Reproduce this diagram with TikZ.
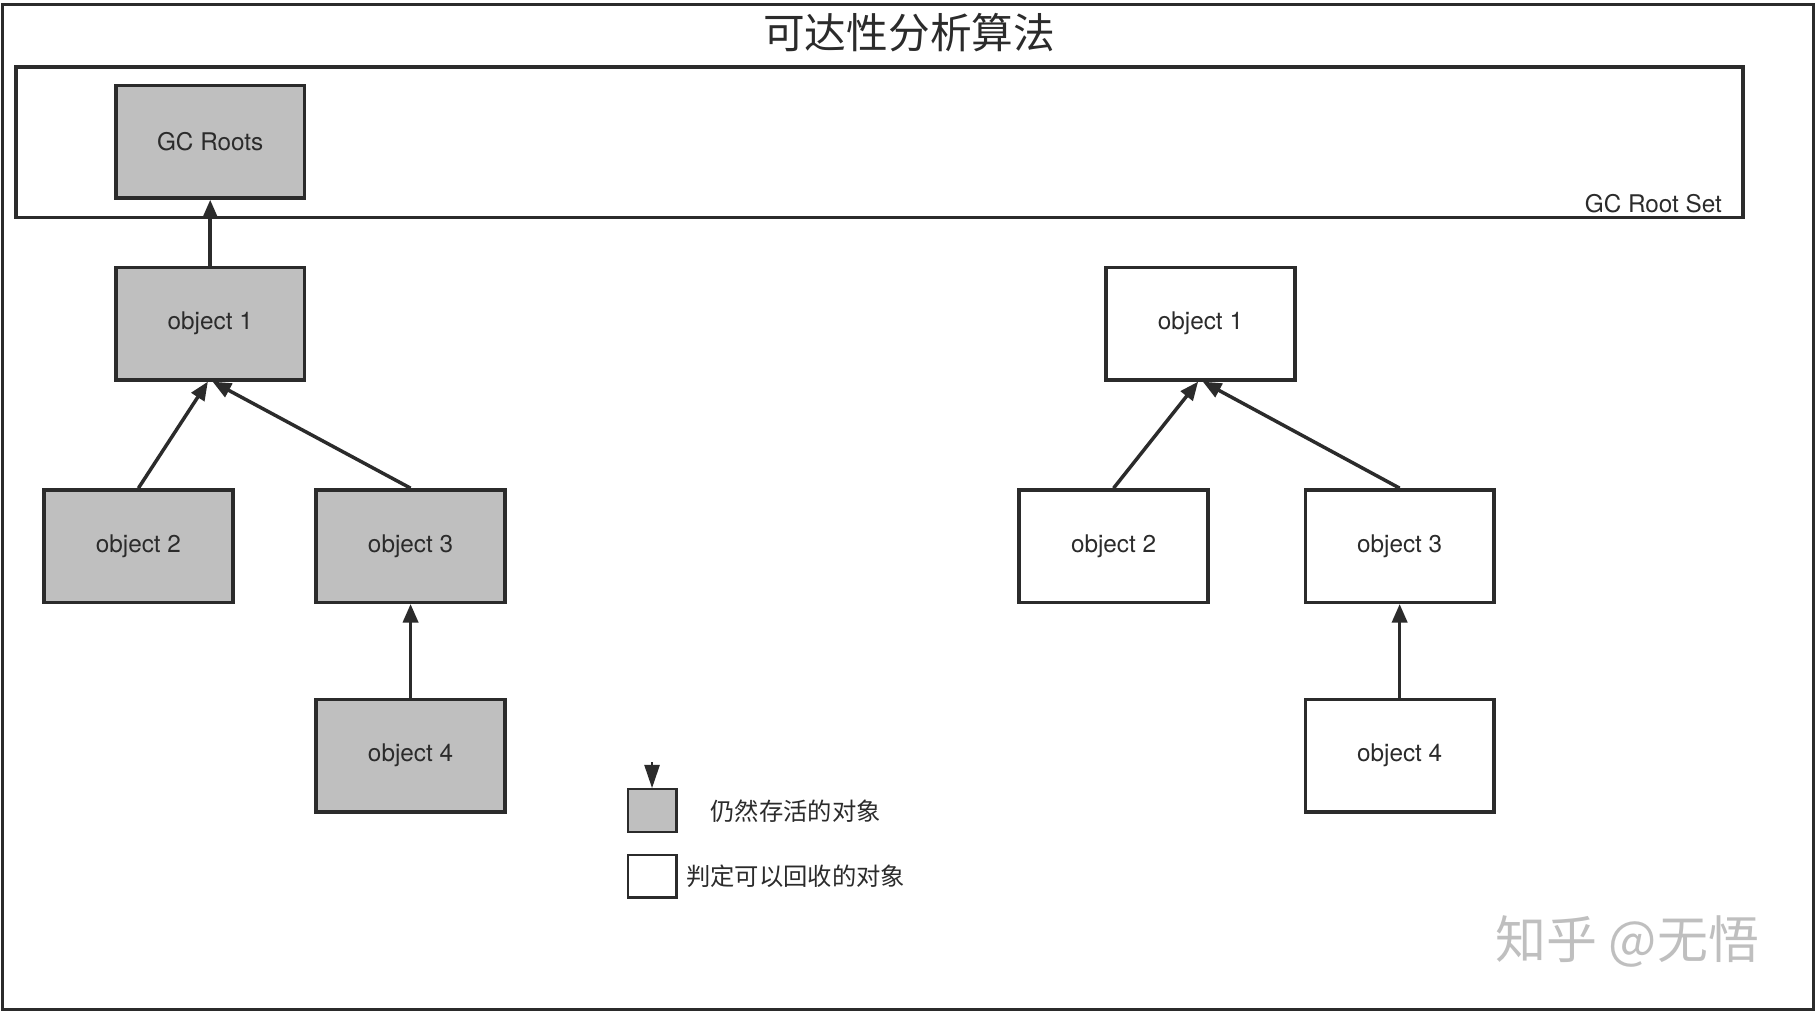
\documentclass[tikz,border=0pt]{standalone}
\usepackage{fontspec}
\setmainfont{TeX Gyre Heros}
\newfontfamily\cjk{Noto Sans CJK SC}
\usetikzlibrary{arrows.meta}
\definecolor{boxgray}{HTML}{BFBFBF}
\definecolor{ln}{HTML}{2B2B2B}
\begin{document}
\begin{tikzpicture}[x=1pt,y=-1pt,
  obj/.style={draw=ln,line width=3pt,minimum width=163pt,minimum height=97pt,inner sep=0pt,font=\fontsize{21}{24}\selectfont,text=ln},
  live/.style={obj,fill=boxgray},
  dead/.style={obj,fill=white},
  ref/.style={draw=ln,line width=3pt,-{Triangle[length=16pt,width=13pt]}},
  leg/.style={draw=ln,line width=2pt,minimum width=42pt,minimum height=37pt,inner sep=0pt}]
\useasboundingbox (0,0) rectangle (1568,876);
\fill[white] (0,0) rectangle (1568,876);
\draw[ln,line width=2.5pt] (2,4) rectangle (1566,872);
\node[font=\cjk\fontsize{36}{40}\selectfont,text=ln] (title) at (785,28) {可达性分析算法};
\node[draw=ln,line width=3pt,minimum width=1491pt,minimum height=130pt,inner sep=0pt] (set) at (759.5,123) {};
\node[anchor=south east,font=\fontsize{21}{24}\selectfont,text=ln,inner sep=0pt] (setlbl) at (1487,184) {GC Root Set};
\node[live] (roots) at (181.5,122.5) {GC Roots};
\node[live] (a1) at (181.5,279.5) {object 1};
\node[live] (a2) at (119.5,471.5) {object 2};
\node[live] (a3) at (354.5,471.5) {object 3};
\node[live] (a4) at (354.5,652.5) {object 4};
\node[dead] (b1) at (1036.5,279.5) {object 1};
\node[dead] (b2) at (961.5,471.5) {object 2};
\node[dead] (b3) at (1208.5,471.5) {object 3};
\node[dead] (b4) at (1208.5,652.5) {object 4};
\draw[ref] (a1.north) -- (roots.south);
\draw[ref] (a2.north) -- ([xshift=-2pt]a1.south);
\draw[ref] (a3.north) -- ([xshift=2pt]a1.south);
\draw[ref] (a4.north) -- (a3.south);
\draw[ref] (b2.north) -- ([xshift=-2pt]b1.south);
\draw[ref] (b3.north) -- ([xshift=2pt]b1.south);
\draw[ref] (b4.north) -- (b3.south);
\node[leg,fill=boxgray] (lg1) at (563,700) {};
\node[leg,fill=white] (lg2) at (563,756.5) {};
\coordinate (tipstart) at (563,658);
\draw[draw=ln,line width=2pt,-{Triangle[length=20pt,width=13pt]}] (tipstart) -- (lg1.north);
\node[anchor=west,font=\cjk\fontsize{21}{24}\selectfont,text=ln] (t1) at (610,700) {仍然存活的对象};
\node[anchor=west,font=\cjk\fontsize{21}{24}\selectfont,text=ln] (t2) at (589,757) {判定可以回收的对象};
\node[font=\cjk\fontsize{44}{48}\selectfont,text=black!25] (wm) at (1405,813) {知乎 @无悟};
\end{tikzpicture}
\end{document}
